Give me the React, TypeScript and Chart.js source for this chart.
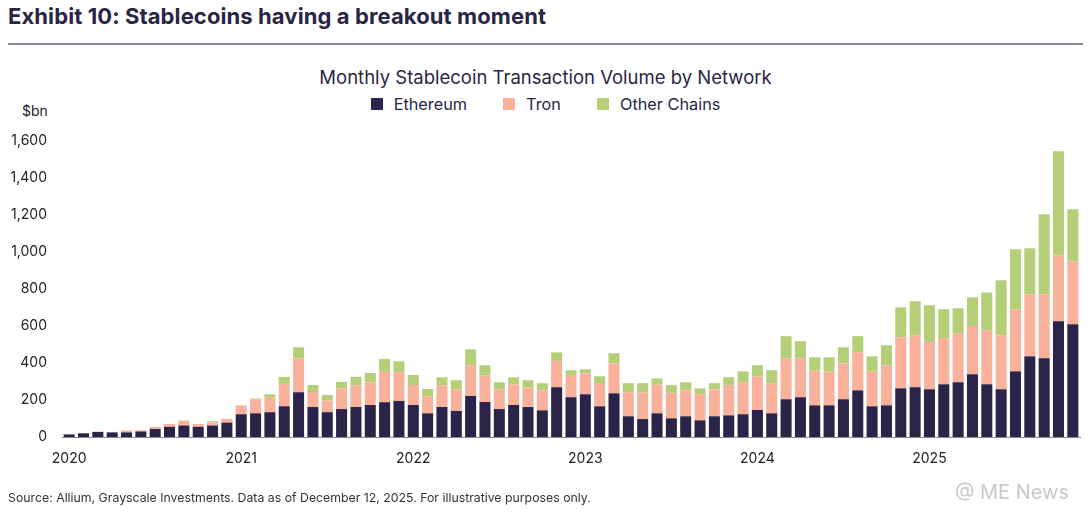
import React, { useEffect, useRef } from "react";
import { Chart, registerables } from "chart.js";

Chart.register(...registerables);

const years = ["2020", "2021", "2022", "2023", "2024", "2025"];
const months = years.flatMap((y) =>
  ["01", "02", "03", "04", "05", "06", "07", "08", "09", "10", "11", "12"].map((m) => `${y}-${m}`)
).slice(0, 71);

const ethereum = [
  14, 20, 27, 25, 25, 30, 43, 55, 62, 55, 62, 78,
  123, 128, 134, 166, 242, 162, 134, 151, 162, 173, 188, 195,
  173, 128, 162, 141, 222, 189, 151, 173, 162, 144, 269, 215,
  231, 166, 236, 112, 97, 128, 101, 112, 90, 112, 117, 123,
  146, 128, 204, 215, 171, 171, 204, 252, 166, 171, 263, 269,
  258, 285, 296, 339, 285, 258, 355, 436, 426, 626, 609,
];
const tron = [
  0, 0, 3, 0, 10, 6, 12, 15, 27, 15, 17, 20,
  48, 76, 81, 121, 182, 81, 64, 112, 118, 123, 164, 155,
  108, 92, 118, 117, 166, 143, 107, 112, 105, 109, 142, 120,
  113, 126, 161, 130, 145, 155, 137, 141, 141, 146, 163, 173,
  182, 163, 222, 211, 190, 182, 194, 206, 187, 215, 276, 281,
  256, 250, 265, 261, 292, 292, 334, 336, 346, 357, 341,
];
const otherChains = [
  0, 0, 0, 0, 0, 0, 0, 0, 0, 0, 6, 0,
  0, 4, 16, 38, 61, 38, 29, 35, 45, 50, 70, 59,
  54, 40, 43, 49, 86, 56, 38, 38, 40, 38, 46, 26,
  22, 36, 56, 49, 49, 34, 42, 43, 32, 33, 43, 59,
  60, 70, 119, 92, 70, 78, 87, 87, 83, 110, 162, 184,
  198, 156, 135, 155, 204, 297, 326, 248, 432, 562, 281,
];

const seriesNames = ["Ethereum", "Tron", "Other Chains"];
const seriesColors = ["#2b2349", "#f9b19b", "#b5cf79"];
const yTicks = [0, 200, 400, 600, 800, 1000, 1200, 1400, 1600];

const FONT = "Inter, 'Noto Sans', sans-serif";
const TEXT = "#2a2545";

export default function App() {
  const ref = useRef<HTMLCanvasElement | null>(null);

  useEffect(() => {
    if (!ref.current) return;
    const chart = new Chart(ref.current, {
      type: "bar",
      data: {
        labels: months,
        datasets: [ethereum, tron, otherChains].map((d, i) => ({
          label: seriesNames[i],
          data: d,
          backgroundColor: seriesColors[i],
          borderWidth: 0,
          categoryPercentage: 1,
          barPercentage: 0.77,
        })),
      },
      options: {
        responsive: false,
        animation: false,
        devicePixelRatio: 1,
        layout: { padding: { top: 141, left: 8, right: 11, bottom: 0 } },
        plugins: { legend: { display: false }, title: { display: false }, tooltip: { enabled: false } },
        scales: {
          x: {
            stacked: true,
            grid: { display: false, drawTicks: false },
            border: { display: true, color: "#8a8a8a", width: 1 },
            ticks: {
              autoSkip: false,
              maxRotation: 0,
              padding: 13,
              color: "#222",
              font: { family: FONT, size: 14 },
              callback: (_v: any, i: number) => (months[i].endsWith("-01") ? months[i].slice(0, 4) : ""),
            },
            afterFit: (s: any) => {
              s.height = 81;
            },
          },
          y: {
            stacked: true,
            min: 0,
            max: 1600,
            grid: { display: false, drawTicks: false },
            border: { display: false },
            afterBuildTicks: (s: any) => {
              s.ticks = yTicks.map((v) => ({ value: v }));
            },
            ticks: {
              padding: 15,
              color: "#222",
              font: { family: FONT, size: 14 },
              callback: (v: any) => Number(v).toLocaleString("en-US"),
            },
            afterFit: (s: any) => {
              s.width = 54;
            },
          },
        },
      },
    });
    return () => chart.destroy();
  }, []);

  return (
    <div style={{ position: "fixed", left: 0, top: 0, width: 1091, height: 518, background: "#fff", fontFamily: FONT, color: TEXT }}>
      <div style={{ position: "absolute", left: 8, top: 3, fontSize: 22, fontWeight: 700, letterSpacing: 0.1, whiteSpace: "nowrap" }}>
        Exhibit 10: Stablecoins having a breakout moment
      </div>
      <div style={{ position: "absolute", left: 8, top: 43, width: 1075, height: 2, background: "#8c8a96" }} />
      <div style={{ position: "absolute", left: 0, width: 1091, top: 66, textAlign: "center", fontSize: 18.5, whiteSpace: "nowrap" }}>
        Monthly Stablecoin Transaction Volume by Network
      </div>
      <div style={{ position: "absolute", left: 0, width: 1091, top: 94, display: "flex", justifyContent: "center", gap: 36, fontSize: 16.3 }}>
        {seriesNames.map((n, i) => (
          <div key={n} style={{ display: "flex", alignItems: "center", gap: 11 }}>
            <span style={{ width: 12, height: 12, background: seriesColors[i], display: "inline-block" }} />
            <span>{n}</span>
          </div>
        ))}
      </div>
      <div style={{ position: "absolute", left: 22, top: 102, fontSize: 14, color: "#222" }}>$bn</div>
      <canvas ref={ref} width={1091} height={518} style={{ position: "absolute", left: 0, top: 0, width: 1091, height: 518 }} />
      <div style={{ position: "absolute", left: 8, top: 490, fontSize: 12.3, color: "#333", whiteSpace: "nowrap" }}>
        Source: Allium, Grayscale Investments. Data as of December 12, 2025. For illustrative purposes only.
      </div>
      <div style={{ position: "absolute", left: 955, top: 480, fontSize: 20, color: "#c8c8c8", whiteSpace: "nowrap" }}>
        @ ME News
      </div>
    </div>
  );
}
